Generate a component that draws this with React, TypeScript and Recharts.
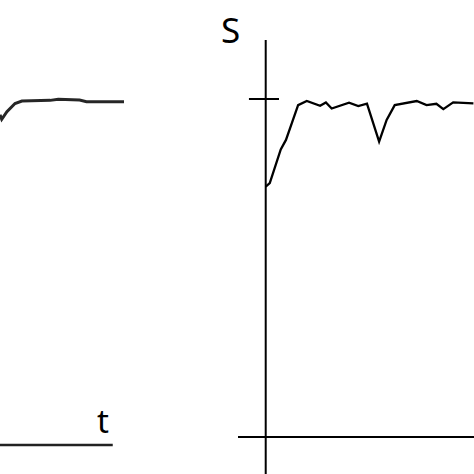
import { LineChart, Line, XAxis, YAxis, ReferenceLine } from "recharts";

// left panel (cut off at the left edge)
const leftT = [0, 0.3, 1.2, 2.6, 3.8, 8.7, 10.1, 13.8, 15.0, 20.2, 21.5];
const leftS = [0.957, 0.944, 0.966, 0.99, 0.997, 0.999, 1.002, 1.0, 0.995, 0.995, 0.995];

// right panel
const rightT = [
  0, 0.7, 2.6, 3.5, 4.5, 5.6, 7.1, 9.4, 10.4, 11.4, 14.4, 16.0, 17.5, 19.6,
  20.9, 22.3, 26.1, 27.8, 29.5, 30.7, 32.4, 35.9,
];
const rightS = [
  0.741, 0.751, 0.851, 0.879, 0.928, 0.982, 0.994, 0.98, 0.99, 0.972, 0.989,
  0.979, 0.986, 0.874, 0.938, 0.982, 0.994, 0.982, 0.986, 0.97, 0.99, 0.987,
];

const leftData = leftT.map((t, i) => ({ t, s: leftS[i] }));
const rightData = rightT.map((t, i) => ({ t, s: rightS[i] }));

const font = "'Noto Sans', sans-serif";

export default function App() {
  return (
    <div style={{ position: "absolute", left: 0, top: 0, width: 474, height: 474 }}>
      <div style={{ position: "absolute", left: 0, top: 0 }}>
        <LineChart
          width={474}
          height={474}
          data={leftData}
          margin={{ top: 40, left: 0, right: 350, bottom: 0 }}
        >
          <XAxis type="number" dataKey="t" domain={[0, 21.5]} hide allowDataOverflow />
          <YAxis type="number" domain={[-0.084, 1.174]} hide allowDataOverflow />
          <ReferenceLine
            segment={[
              { x: 0, y: 0 },
              { x: 19.55, y: 0 },
            ]}
            stroke="#222"
            strokeWidth={2.5}
          />
          <Line
            type="linear"
            dataKey="s"
            stroke="#262626"
            strokeWidth={3}
            dot={false}
            isAnimationActive={false}
          />
        </LineChart>
      </div>
      <div style={{ position: "absolute", left: 0, top: 0 }}>
        <LineChart
          width={474}
          height={474}
          data={rightData}
          margin={{ top: 40, left: 238, right: 0, bottom: 0 }}
        >
          <XAxis type="number" dataKey="t" domain={[-4.79, 36]} hide allowDataOverflow />
          <YAxis type="number" domain={[-0.1095, 1.1746]} hide allowDataOverflow />
          <ReferenceLine x={0} stroke="#000" strokeWidth={2} />
          <ReferenceLine y={0} stroke="#000" strokeWidth={2} />
          <ReferenceLine
            segment={[
              { x: -2.9, y: 1 },
              { x: 2.3, y: 1 },
            ]}
            stroke="#000"
            strokeWidth={2}
          />
          <Line
            type="linear"
            dataKey="s"
            stroke="#000"
            strokeWidth={2.3}
            dot={false}
            isAnimationActive={false}
          />
        </LineChart>
      </div>
      <div
        style={{
          position: "absolute",
          left: 97,
          top: 404,
          fontFamily: font,
          fontSize: 33,
          lineHeight: 1,
          color: "#000",
        }}
      >
        t
      </div>
      <div
        style={{
          position: "absolute",
          left: 221,
          top: 12,
          fontFamily: font,
          fontSize: 35,
          lineHeight: 1,
          color: "#000",
        }}
      >
        S
      </div>
    </div>
  );
}
